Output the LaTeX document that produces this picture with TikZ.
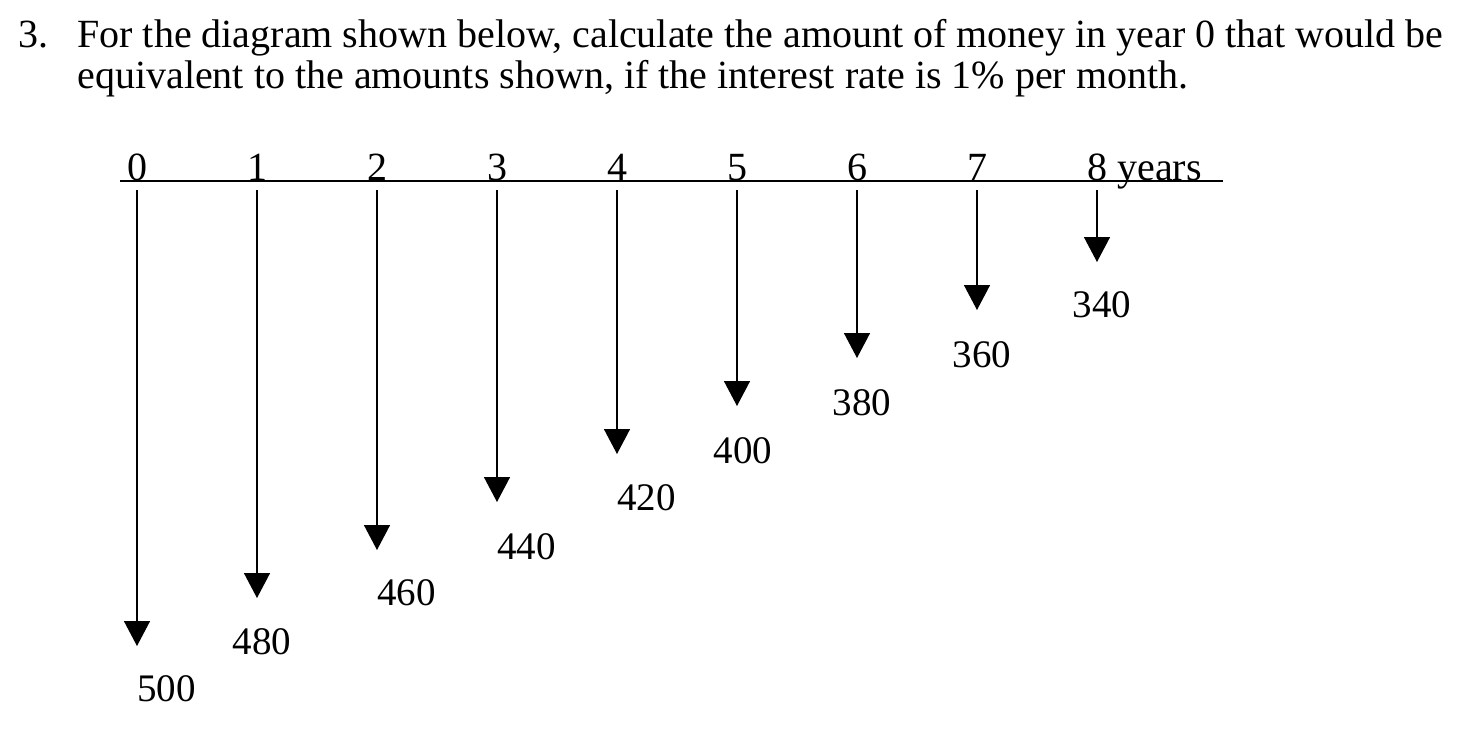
\documentclass[tikz,border=0pt]{standalone}
\usepackage{fontspec}
\setmainfont{Liberation Serif}
\usetikzlibrary{arrows.meta}

\tikzset{
    cashflow/.style={line width=0.75pt, -{Triangle[width=13pt,length=12.5pt]}},
    amount/.style={inner sep=0pt, font=\fontsize{19.5pt}{22pt}\selectfont},
    period/.style={inner sep=0pt, font=\fontsize{20pt}{22pt}\selectfont},
    question/.style={inner sep=0pt, font=\fontsize{20pt}{23pt}\selectfont}
}

\begin{document}
\begin{tikzpicture}[x=0.5pt, y=-0.5pt]

    \useasboundingbox (0,0) rectangle (1480,730);

    \def \ytop {190}
    \def \yaxis {181}

    % Question text
    \node[question, anchor=base west] (qnum) at (18,47) {3.};
    \node[question, anchor=base west] (qline1) at (77,47) {For the diagram shown below, calculate the amount of money in year 0 that would be};
    \node[question, anchor=base west] (qline2) at (77,88) {equivalent to the amounts shown, if the interest rate is 1\% per month.};

    % Time axis
    \coordinate (axisL) at (120,\yaxis);
    \coordinate (axisR) at (1223,\yaxis);
    \draw[line width=0.75pt] (axisL) -- (axisR);

    \node[period, anchor=base] (y0) at (137,180) {0};
    \node[period, anchor=base] (y1) at (257,180) {1};
    \node[period, anchor=base] (y2) at (377,180) {2};
    \node[period, anchor=base] (y3) at (497,180) {3};
    \node[period, anchor=base] (y4) at (617,180) {4};
    \node[period, anchor=base] (y5) at (737,180) {5};
    \node[period, anchor=base] (y6) at (857,180) {6};
    \node[period, anchor=base] (y7) at (977,180) {7};
    \node[period, anchor=base west] (y8) at (1087,180) {8 years};

    % Cash flow arrows: tips step up 48 px per year
    \coordinate (top0) at (137,\ytop);   \coordinate (tip0) at (137,646);
    \coordinate (top1) at (257,\ytop);   \coordinate (tip1) at (257,598);
    \coordinate (top2) at (377,\ytop);   \coordinate (tip2) at (377,550);
    \coordinate (top3) at (497,\ytop);   \coordinate (tip3) at (497,502);
    \coordinate (top4) at (617,\ytop);   \coordinate (tip4) at (617,454);
    \coordinate (top5) at (737,\ytop);   \coordinate (tip5) at (737,406);
    \coordinate (top6) at (857,\ytop);   \coordinate (tip6) at (857,358);
    \coordinate (top7) at (977,\ytop);   \coordinate (tip7) at (977,310);
    \coordinate (top8) at (1097,\ytop);  \coordinate (tip8) at (1097,262);

    \draw[cashflow] (top0) -- (tip0);
    \draw[cashflow] (top1) -- (tip1);
    \draw[cashflow] (top2) -- (tip2);
    \draw[cashflow] (top3) -- (tip3);
    \draw[cashflow] (top4) -- (tip4);
    \draw[cashflow] (top5) -- (tip5);
    \draw[cashflow] (top6) -- (tip6);
    \draw[cashflow] (top7) -- (tip7);
    \draw[cashflow] (top8) -- (tip8);

    % Amounts
    \node[amount, anchor=base west] (a0) at (137,701) {500};
    \node[amount, anchor=base] (a1) at (262,654) {480};
    \node[amount, anchor=base west] (a2) at (377,605) {460};
    \node[amount, anchor=base west] (a3) at (497,559) {440};
    \node[amount, anchor=base west] (a4) at (617,510) {420};
    \node[amount, anchor=base] (a5) at (743,463) {400};
    \node[amount, anchor=base] (a6) at (862,415) {380};
    \node[amount, anchor=base] (a7) at (982,367) {360};
    \node[amount, anchor=base] (a8) at (1102,317) {340};

\end{tikzpicture}
\end{document}
